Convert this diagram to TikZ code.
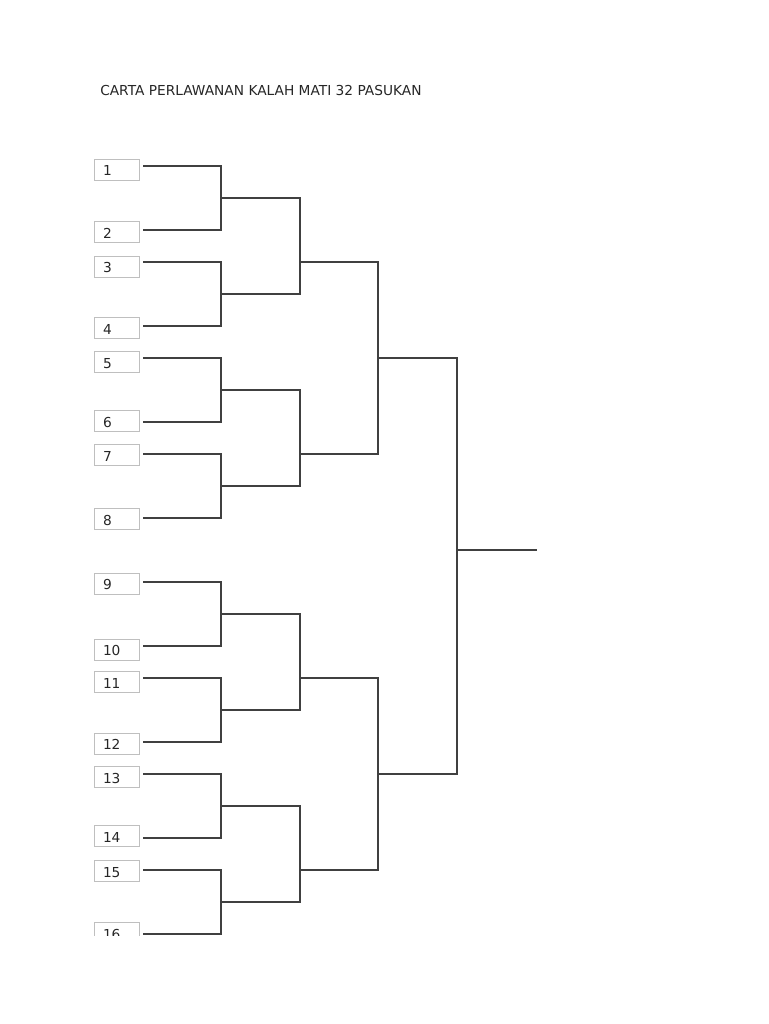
\documentclass[tikz,border=0pt]{standalone}
\usepackage{fontspec}
\setmainfont{DejaVu Sans}
\usetikzlibrary{positioning}

\begin{document}
\begin{tikzpicture}[x=0.75pt,y=-0.75pt,
    team/.style={draw=black!25,minimum height=15.75pt,text width=20.25pt,
      text height=9.6pt,text depth=0pt,
      inner xsep=6.75pt,inner ysep=0pt,align=left,text=black!85,
      font=\fontsize{10.3}{12}\selectfont},
    link/.style={draw=black!75,line width=0.9pt,line cap=rect}]
  \useasboundingbox (0,0) rectangle (768,1024);
  \node[anchor=base west,inner sep=0pt,text=black!85,font=\fontsize{10.3}{12}\selectfont]
    (title) at (100,95) {CARTA PERLAWANAN KALAH MATI 32 PASUKAN};

  \begin{scope}
  \clip (0,0) rectangle (768,935.5);
  % teams, first round lines
  \foreach \n/\by/\ly in {1/169.5/166, 2/232/230, 3/266.5/262, 4/328/326,
      5/362/358, 6/421/422, 7/455/454, 8/519/518, 9/583.5/582, 10/649.5/646,
      11/682/678, 12/743.5/742, 13/777/774, 14/836/838, 15/871/870, 16/933/934}{
    \node[team] (t\n) at (116.5,\by) {\n};
    \coordinate (e\n) at (221,\ly);
    \draw[link,shorten <=3pt] (t\n.east |- e\n) -- (e\n);
  }
  \end{scope}

  % round 2
  \foreach \i/\a/\b/\y in {1/1/2/198, 2/3/4/294, 3/5/6/390, 4/7/8/486,
      5/9/10/614, 6/11/12/710, 7/13/14/806, 8/15/16/902}{
    \coordinate (p\i) at (300,\y);
    \draw[link] (e\a) -- (e\b);
    \draw[link] (e\a |- p\i) -- (p\i);
  }

  % round 3
  \foreach \i/\a/\b/\y in {1/1/2/262, 2/3/4/454, 3/5/6/678, 4/7/8/870}{
    \coordinate (q\i) at (378,\y);
    \draw[link] (p\a) -- (p\b);
    \draw[link] (p\a |- q\i) -- (q\i);
  }

  % semi final
  \foreach \i/\a/\b/\y in {1/1/2/358, 2/3/4/774}{
    \coordinate (r\i) at (457,\y);
    \draw[link] (q\a) -- (q\b);
    \draw[link] (q\a |- r\i) -- (r\i);
  }

  % final
  \coordinate (win) at (536,550);
  \draw[link] (r1) -- (r2);
  \draw[link] (r1 |- win) -- (win);
\end{tikzpicture}
\end{document}
